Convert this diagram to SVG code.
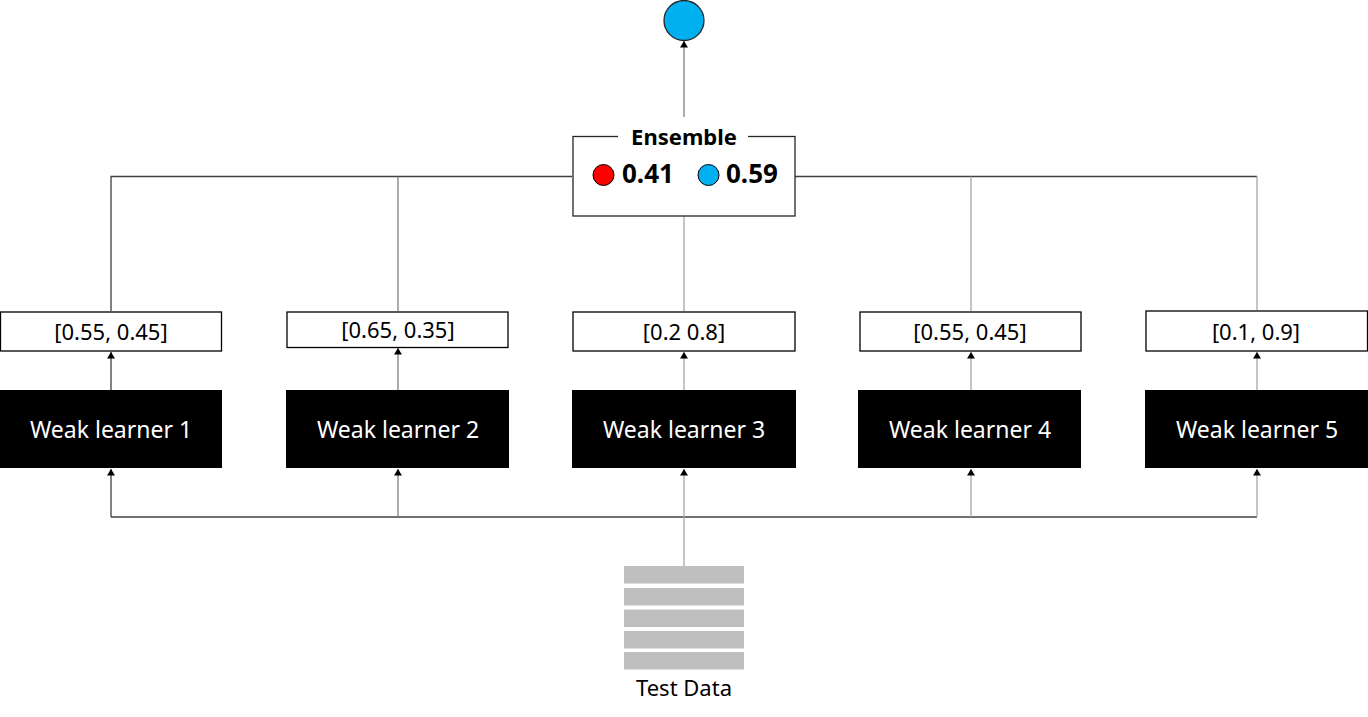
<svg xmlns="http://www.w3.org/2000/svg" width="1368" height="717" viewBox="0 0 1368 717">
<defs>
<marker id="ah" viewBox="0 0 8 10" refX="8" refY="5" markerWidth="7" markerHeight="8" orient="auto" markerUnits="userSpaceOnUse">
<path d="M0,0 L8,5 L0,10 Z" fill="#000"/>
</marker>
<style>
.t{font-family:"Noto Sans","Open Sans","Liberation Sans",sans-serif;}
.prob{fill:#fff;stroke:#000;stroke-width:1.3;}
.wl{fill:#000;}
.pt{font-size:22px;fill:#000;text-anchor:middle;}
.wt{font-size:23px;fill:#fff;text-anchor:middle;}
.bar{fill:#bfbfbf;}
.dk{stroke:#404040;stroke-width:1.3;fill:none;}
.md{stroke:#7f7f7f;stroke-width:1.3;fill:none;}
.lt{stroke:#a6a6a6;stroke-width:1.3;fill:none;}
</style>
</defs>
<rect width="1368" height="717" fill="#fff"/>

<g id="connectors">
<line class="md" x1="684" y1="117" x2="684" y2="41" marker-end="url(#ah)"/>
<polyline class="dk" points="111,311 111,176.5 572,176.5"/>
<line class="md" x1="398" y1="176.5" x2="398" y2="311"/>
<polyline class="dk" points="795,176.5 1257,176.5"/>
<line class="lt" x1="971" y1="176.5" x2="971" y2="311"/>
<line class="lt" x1="1257" y1="176.5" x2="1257" y2="310"/>
<line class="lt" x1="684" y1="216" x2="684" y2="311"/>
<line class="dk" x1="111" y1="390" x2="111" y2="352" marker-end="url(#ah)"/>
<line class="md" x1="398" y1="390" x2="398" y2="348" marker-end="url(#ah)"/>
<line class="lt" x1="684" y1="390" x2="684" y2="352" marker-end="url(#ah)"/>
<line class="lt" x1="971" y1="390" x2="971" y2="352" marker-end="url(#ah)"/>
<line class="lt" x1="1257" y1="390" x2="1257" y2="352" marker-end="url(#ah)"/>
<line class="dk" x1="111" y1="517" x2="1257" y2="517"/>
<line class="dk" x1="111" y1="517" x2="111" y2="469" marker-end="url(#ah)"/>
<line class="md" x1="398" y1="517" x2="398" y2="469" marker-end="url(#ah)"/>
<line class="lt" x1="684" y1="566" x2="684" y2="469" marker-end="url(#ah)"/>
<line class="lt" x1="971" y1="517" x2="971" y2="469" marker-end="url(#ah)"/>
<line class="lt" x1="1257" y1="517" x2="1257" y2="469" marker-end="url(#ah)"/>
</g>

<g id="output">
<circle cx="684" cy="20.5" r="20" fill="#00b0f0" stroke="#262626" stroke-width="1.3"/>
</g>

<g id="ensemble">
<rect x="573" y="136.5" width="222" height="79.5" fill="#fff" stroke="#262626" stroke-width="1.3"/>
<rect x="618" y="128" width="130" height="16" fill="#fff"/>
<text class="t" x="684" y="145" font-size="22" font-weight="bold" text-anchor="middle" fill="#000">Ensemble</text>
<circle cx="603.5" cy="175" r="10.5" fill="#ff0000" stroke="#000" stroke-width="1"/>
<text class="t" x="622" y="183" font-size="26" font-weight="bold" fill="#000">0.41</text>
<circle cx="708.5" cy="175" r="10.5" fill="#00b0f0" stroke="#000" stroke-width="1"/>
<text class="t" x="726" y="183" font-size="26" font-weight="bold" fill="#000">0.59</text>
</g>

<g id="prob1"><rect class="prob" x="0.5" y="312" width="221" height="39"/><text class="t pt" x="111" y="340">[0.55, 0.45]</text></g>
<g id="prob2"><rect class="prob" x="287" y="312" width="221" height="35.5"/><text class="t pt" x="398" y="338">[0.65, 0.35]</text></g>
<g id="prob3"><rect class="prob" x="573" y="312" width="222" height="39"/><text class="t pt" x="684" y="340">[0.2 0.8]</text></g>
<g id="prob4"><rect class="prob" x="860" y="312" width="221" height="39"/><text class="t pt" x="970" y="340">[0.55, 0.45]</text></g>
<g id="prob5"><rect class="prob" x="1146" y="311" width="221.5" height="40"/><text class="t pt" x="1256" y="340">[0.1, 0.9]</text></g>

<g id="wl1"><rect class="wl" x="0" y="390" width="222" height="78"/><text class="t wt" x="111" y="438">Weak learner 1</text></g>
<g id="wl2"><rect class="wl" x="286" y="390" width="223" height="78"/><text class="t wt" x="398" y="438">Weak learner 2</text></g>
<g id="wl3"><rect class="wl" x="572" y="390" width="224" height="78"/><text class="t wt" x="684" y="438">Weak learner 3</text></g>
<g id="wl4"><rect class="wl" x="858" y="390" width="223" height="78"/><text class="t wt" x="970" y="438">Weak learner 4</text></g>
<g id="wl5"><rect class="wl" x="1145" y="390" width="223" height="78"/><text class="t wt" x="1257" y="438">Weak learner 5</text></g>

<g id="testdata">
<rect class="bar" x="624" y="566" width="120" height="17.5"/>
<rect class="bar" x="624" y="588" width="120" height="17.5"/>
<rect class="bar" x="624" y="609.5" width="120" height="17.5"/>
<rect class="bar" x="624" y="631" width="120" height="17.5"/>
<rect class="bar" x="624" y="652" width="120" height="17.5"/>
<text class="t" x="684" y="696" font-size="22" text-anchor="middle" fill="#000">Test Data</text>
</g>
</svg>
